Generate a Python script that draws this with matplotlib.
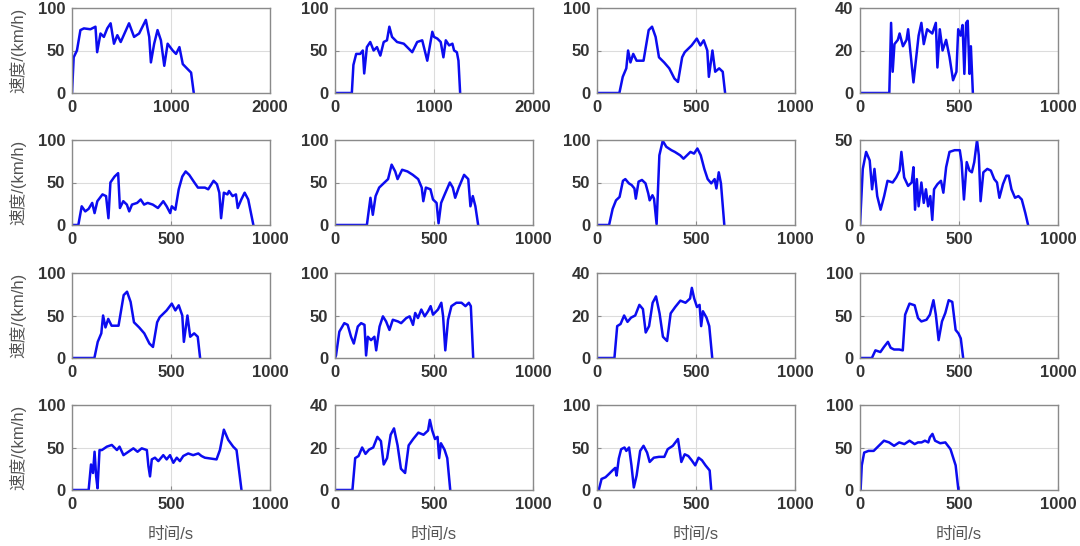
import matplotlib
matplotlib.use("Agg")
import matplotlib.pyplot as plt

# (time s, speed km/h), row by row
p11 = [(0, 0), (17, 42), (50, 50), (85, 74), (120, 76), (186, 75), (237, 78), (254, 48), (288, 70),
       (322, 66), (356, 76), (390, 82), (424, 58), (458, 68), (492, 60), (576, 82), (627, 66),
       (678, 70), (746, 86), (780, 66), (797, 36), (830, 58), (864, 74), (898, 62), (932, 32),
       (966, 58), (1017, 50), (1051, 46), (1085, 54), (1119, 34), (1169, 28), (1203, 24), (1230, 0)]
p12 = [(0, 0), (170, 0), (186, 33), (214, 46), (254, 46), (281, 50), (295, 23), (322, 54), (356, 60),
       (390, 50), (424, 54), (458, 44), (492, 60), (525, 62), (549, 78), (576, 66), (627, 60),
       (695, 58), (780, 48), (830, 60), (881, 62), (915, 46), (932, 38), (983, 72), (1000, 66),
       (1034, 64), (1068, 60), (1095, 42), (1119, 62), (1153, 56), (1186, 58), (1203, 50),
       (1231, 48), (1247, 38), (1264, 0)]
p13 = [(0, 0), (113, 0), (130, 19), (148, 29), (157, 50), (169, 36), (183, 46), (200, 38), (235, 38),
       (261, 74), (278, 78), (296, 66), (313, 42), (339, 36), (365, 29), (391, 17), (409, 13),
       (430, 42), (443, 48), (478, 56), (504, 64), (522, 56), (539, 62), (557, 50), (565, 19),
       (583, 50), (597, 25), (617, 29), (635, 25), (647, 0)]
p14 = [(0, 0), (148, 0), (157, 33), (165, 10), (174, 23), (191, 25), (200, 28), (217, 22), (235, 25),
       (243, 30), (270, 5), (296, 27), (310, 33), (322, 23), (339, 30), (365, 28), (383, 33),
       (391, 12), (403, 30), (417, 20), (435, 25), (452, 17), (470, 6), (487, 10), (496, 30),
       (508, 27), (518, 32), (527, 9), (536, 33), (544, 34), (553, 9), (560, 22), (570, 0)]
p21 = [(0, 0), (32, 0), (49, 22), (67, 16), (84, 19), (102, 26), (114, 14), (128, 28), (154, 36),
       (172, 34), (184, 8), (194, 50), (215, 57), (233, 61), (242, 20), (259, 28), (277, 24),
       (289, 16), (303, 24), (329, 26), (347, 30), (364, 24), (382, 26), (408, 24), (434, 20),
       (461, 28), (478, 22), (496, 14), (504, 22), (522, 18), (539, 42), (557, 57), (574, 63),
       (592, 59), (618, 50), (636, 44), (671, 44), (688, 42), (715, 52), (732, 48), (744, 38),
       (753, 8), (767, 38), (785, 36), (793, 40), (811, 34), (828, 36), (837, 20), (855, 30),
       (872, 38), (890, 30), (916, 0)]
p22 = [(0, 0), (161, 0), (179, 32), (191, 12), (205, 34), (223, 44), (250, 50), (268, 54), (286, 71),
       (304, 63), (316, 54), (339, 65), (366, 63), (393, 59), (420, 54), (438, 44), (446, 28),
       (459, 44), (482, 42), (495, 30), (513, 26), (523, 2), (536, 26), (554, 36), (580, 50),
       (595, 44), (607, 32), (625, 44), (652, 59), (673, 54), (684, 22), (696, 34), (709, 22), (723, 0)]
p23 = [(0, 0), (61, 0), (79, 19), (96, 29), (114, 33), (131, 52), (143, 54), (161, 49), (175, 47),
       (189, 43), (196, 31), (210, 51), (227, 53), (245, 49), (259, 37), (266, 29), (280, 35),
       (288, 31), (301, 1), (315, 82), (332, 99), (350, 92), (376, 88), (393, 86), (420, 82),
       (437, 78), (472, 86), (490, 84), (507, 90), (524, 82), (542, 66), (559, 54), (577, 49),
       (594, 54), (603, 43), (615, 62), (626, 49), (643, 0)]
p24 = [(0, 0), (14, 33), (31, 43), (49, 38), (61, 21), (73, 33), (87, 17), (104, 9), (122, 17),
       (139, 26), (165, 25), (183, 28), (200, 32), (209, 43), (223, 28), (243, 23), (261, 25),
       (270, 34), (278, 9), (287, 27), (296, 11), (310, 25), (322, 13), (333, 21), (344, 11),
       (355, 17), (365, 3), (374, 21), (391, 24), (409, 26), (421, 19), (435, 34), (452, 43),
       (478, 44), (504, 44), (513, 37), (525, 15), (539, 37), (553, 32), (565, 31), (577, 37),
       (591, 50), (600, 41), (609, 14), (623, 31), (643, 33), (661, 32), (678, 27), (692, 25),
       (704, 16), (722, 24), (739, 29), (751, 29), (765, 21), (783, 16), (800, 17), (817, 15),
       (835, 7), (849, 0)]
p31 = p13
p32 = [(0, 0), (5, 3), (22, 31), (47, 41), (64, 39), (81, 25), (95, 17), (115, 37), (132, 41),
       (149, 39), (157, 3), (166, 25), (182, 21), (199, 25), (208, 9), (225, 37), (242, 49),
       (258, 43), (275, 33), (292, 45), (318, 43), (334, 41), (360, 47), (377, 49), (394, 39),
       (405, 53), (419, 47), (436, 57), (453, 49), (470, 55), (483, 61), (495, 51), (520, 57),
       (537, 65), (546, 49), (557, 9), (571, 45), (588, 61), (613, 65), (639, 65), (659, 61),
       (676, 65), (686, 61), (698, 0)]
p33 = [(0, 0), (88, 0), (102, 15), (119, 16), (137, 20), (154, 17), (172, 19), (193, 20), (214, 25),
       (232, 23), (246, 12), (263, 15), (281, 26), (298, 29), (316, 21), (333, 10), (354, 8),
       (372, 21), (395, 24), (421, 27), (447, 26), (470, 28), (479, 33), (491, 28), (505, 24),
       (518, 25), (526, 15), (535, 22), (553, 19), (567, 15), (582, 0)]
p34 = [(0, 0), (60, 0), (78, 9), (103, 7), (121, 13), (141, 19), (155, 12), (172, 10), (198, 10),
       (216, 9), (228, 51), (250, 64), (276, 62), (293, 47), (310, 43), (336, 45), (353, 51),
       (371, 68), (383, 51), (397, 21), (414, 43), (431, 53), (448, 68), (466, 66), (483, 33),
       (497, 29), (509, 23), (521, 0)]
p41 = [(0, 0), (84, 0), (96, 30), (106, 20), (114, 45), (122, 16), (129, 2), (139, 47), (151, 47),
       (176, 51), (201, 53), (227, 47), (240, 51), (260, 41), (285, 45), (310, 49), (331, 45),
       (352, 49), (378, 47), (386, 28), (394, 16), (403, 36), (419, 38), (436, 34), (461, 41),
       (478, 36), (495, 41), (512, 32), (529, 38), (545, 34), (562, 40), (587, 43), (612, 41),
       (638, 43), (654, 40), (671, 38), (730, 36), (747, 47), (767, 71), (789, 59), (814, 51),
       (831, 47), (856, 0)]
p42 = p33
p43 = [(0, 0), (9, 0), (23, 13), (43, 15), (61, 19), (78, 23), (92, 26), (99, 17), (110, 37),
       (122, 48), (139, 50), (148, 46), (162, 50), (174, 29), (186, 3), (200, 17), (218, 46),
       (235, 52), (253, 44), (266, 33), (287, 38), (313, 39), (340, 39), (357, 48), (383, 52),
       (409, 60), (426, 33), (443, 42), (461, 40), (478, 35), (496, 29), (513, 38), (530, 35),
       (548, 29), (569, 23), (577, 0)]
p44 = [(0, 0), (3, 0), (9, 29), (21, 44), (43, 46), (69, 46), (95, 52), (121, 58), (147, 56),
       (172, 52), (198, 56), (224, 54), (250, 58), (276, 54), (293, 56), (311, 56), (328, 58),
       (345, 56), (353, 62), (366, 66), (379, 58), (405, 55), (431, 56), (457, 48), (483, 29),
       (497, 0)]

panels = [[p11, p12, p13, p14],
          [p21, p22, p23, p24],
          [p31, p32, p33, p34],
          [p41, p42, p43, p44]]
xmax = [[2000, 2000, 1000, 1000],
        [1000, 1000, 1000, 1000],
        [1000, 1000, 1000, 1000],
        [1000, 1000, 1000, 1000]]
ymax = [[100, 100, 100, 40],
        [100, 100, 100, 50],
        [100, 100, 40, 100],
        [100, 40, 100, 100]]

W, H = 1080, 546
lefts = [72, 335, 597, 860]
tops = [8, 140, 273, 405]
aw, ah = 198, 85

fig = plt.figure(figsize=(W / 100, H / 100), dpi=100)
fig.patch.set_facecolor('white')
tick_family = ['Liberation Sans', 'DejaVu Sans']
lab_font = ['Liberation Sans', 'Noto Sans CJK SC']

for r in range(4):
    for c in range(4):
        ax = fig.add_axes([lefts[c] / W, 1 - (tops[r] + ah) / H, aw / W, ah / H])
        t = [p[0] for p in panels[r][c]]
        v = [p[1] for p in panels[r][c]]
        ax.plot(t, v, color='#0c0cf0', lw=1.8)
        xm, ym = xmax[r][c], ymax[r][c]
        ax.set_xlim(0, xm)
        ax.set_ylim(0, ym)
        ax.set_xticks([0, xm // 2, xm])
        if ym == 50:
            ax.set_yticks([0, 50])
        else:
            ax.set_yticks([0, ym // 2, ym])
        ax.grid(True, color='#dcdcdc', lw=0.8)
        ax.set_axisbelow(True)
        for s in ax.spines.values():
            s.set_color('#8a8a8a')
            s.set_linewidth(1.0)
        ax.tick_params(direction='in', length=3, color='#8a8a8a', pad=5, labelcolor='#333333')
        for lb in ax.get_xticklabels() + ax.get_yticklabels():
            lb.set_fontfamily(tick_family)
            lb.set_fontsize(12)
            lb.set_fontweight('bold')
        if c == 0:
            ax.set_ylabel('速度/(km/h)', family=lab_font, fontsize=12, color='#555555')
            ax.yaxis.set_label_coords(-0.23, 0.5)
        if r == 3:
            ax.set_xlabel('时间/s', family=lab_font, fontsize=12, color='#555555')
            ax.xaxis.set_label_coords(0.5, -0.44)

fig.savefig('out.png', dpi=100)
